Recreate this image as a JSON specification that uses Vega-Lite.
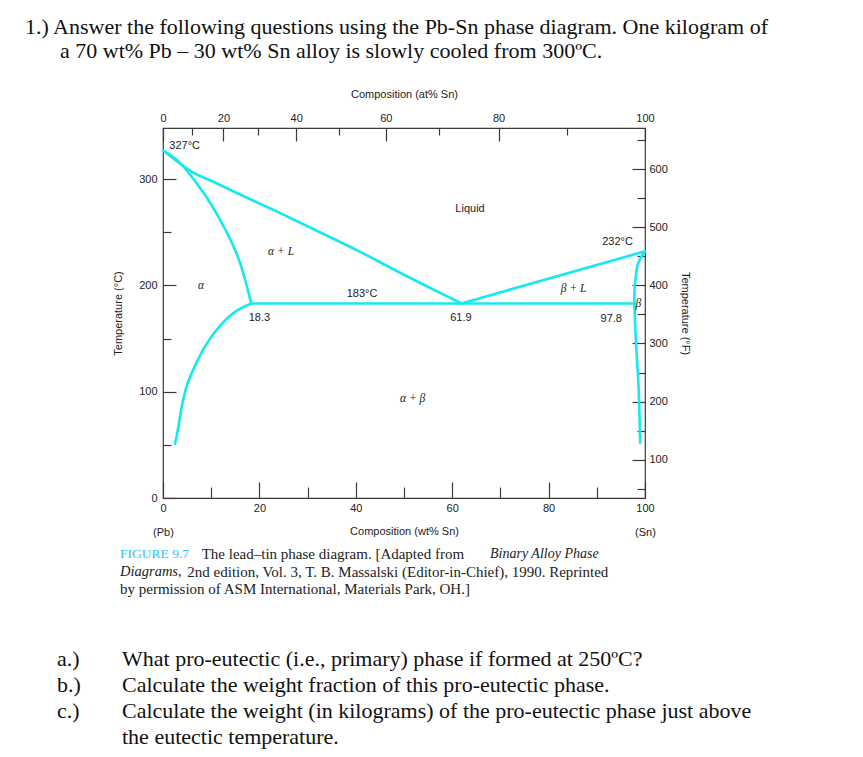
{
  "$schema": "https://vega.github.io/schema/vega-lite/v6.json",
  "width": 482,
  "height": 370,
  "autosize": {"type": "none"},
  "padding": {"left": 163, "top": 128, "right": 218, "bottom": 259},
  "background": "white",
  "config": {
    "view": {"stroke": "#3a3a3a", "strokeWidth": 1.2},
    "font": "Liberation Sans",
    "axis": {
      "labelFont": "Liberation Sans", "labelFontSize": 11, "labelColor": "#222",
      "titleFont": "Liberation Sans", "titleFontSize": 11, "titleFontWeight": "normal", "titleColor": "#222",
      "tickColor": "#3a3a3a", "tickWidth": 1.2, "domain": false, "grid": false,
      "labelFlush": false, "labelOverlap": false, "labelBound": false
    }
  },
  "datasets": {
    "boundaries": [
      {"boundary": "liquidus_a", "seq": 1, "wt": 0, "T": 327},
      {"boundary": "liquidus_a", "seq": 2, "wt": 5.6, "T": 308},
      {"boundary": "liquidus_a", "seq": 3, "wt": 11.1, "T": 296},
      {"boundary": "liquidus_a", "seq": 4, "wt": 18.1, "T": 281},
      {"boundary": "liquidus_a", "seq": 5, "wt": 24.3, "T": 268},
      {"boundary": "liquidus_a", "seq": 6, "wt": 33, "T": 249},
      {"boundary": "liquidus_a", "seq": 7, "wt": 40.7, "T": 232},
      {"boundary": "liquidus_a", "seq": 8, "wt": 50, "T": 210},
      {"boundary": "liquidus_a", "seq": 9, "wt": 61.9, "T": 183},
      {"boundary": "solidus_a", "seq": 1, "wt": 0, "T": 327},
      {"boundary": "solidus_a", "seq": 2, "wt": 2, "T": 321},
      {"boundary": "solidus_a", "seq": 3, "wt": 4.2, "T": 312},
      {"boundary": "solidus_a", "seq": 4, "wt": 8.4, "T": 287},
      {"boundary": "solidus_a", "seq": 5, "wt": 11.8, "T": 262},
      {"boundary": "solidus_a", "seq": 6, "wt": 14.3, "T": 240},
      {"boundary": "solidus_a", "seq": 7, "wt": 16, "T": 221},
      {"boundary": "solidus_a", "seq": 8, "wt": 17.4, "T": 199},
      {"boundary": "solidus_a", "seq": 9, "wt": 18.3, "T": 183},
      {"boundary": "solvus_a", "seq": 1, "wt": 18.3, "T": 183},
      {"boundary": "solvus_a", "seq": 2, "wt": 14.6, "T": 174},
      {"boundary": "solvus_a", "seq": 3, "wt": 11.1, "T": 158},
      {"boundary": "solvus_a", "seq": 4, "wt": 8.4, "T": 140},
      {"boundary": "solvus_a", "seq": 5, "wt": 6.3, "T": 121},
      {"boundary": "solvus_a", "seq": 6, "wt": 4.9, "T": 105},
      {"boundary": "solvus_a", "seq": 7, "wt": 3.9, "T": 86},
      {"boundary": "solvus_a", "seq": 8, "wt": 3.2, "T": 67},
      {"boundary": "solvus_a", "seq": 9, "wt": 2.5, "T": 51},
      {"boundary": "liquidus_b", "seq": 1, "wt": 61.9, "T": 183},
      {"boundary": "liquidus_b", "seq": 2, "wt": 100, "T": 232},
      {"boundary": "solidus_b", "seq": 1, "wt": 100, "T": 232},
      {"boundary": "solidus_b", "seq": 2, "wt": 98.6, "T": 221},
      {"boundary": "solidus_b", "seq": 3, "wt": 98.0, "T": 205},
      {"boundary": "solidus_b", "seq": 4, "wt": 97.8, "T": 193},
      {"boundary": "solidus_b", "seq": 5, "wt": 97.8, "T": 183},
      {"boundary": "solvus_b", "seq": 1, "wt": 97.8, "T": 183},
      {"boundary": "solvus_b", "seq": 2, "wt": 97.9, "T": 170},
      {"boundary": "solvus_b", "seq": 3, "wt": 98.0, "T": 158},
      {"boundary": "solvus_b", "seq": 4, "wt": 98.3, "T": 133},
      {"boundary": "solvus_b", "seq": 5, "wt": 98.6, "T": 111},
      {"boundary": "solvus_b", "seq": 6, "wt": 98.8, "T": 86},
      {"boundary": "solvus_b", "seq": 7, "wt": 99.0, "T": 52},
      {"boundary": "eutectic", "seq": 1, "wt": 18.3, "T": 183},
      {"boundary": "eutectic", "seq": 2, "wt": 97.8, "T": 183}
    ],
    "valueLabels": [
      {"text": "327°C", "wt": 4.5, "T": 331},
      {"text": "Liquid", "wt": 63.7, "T": 271.6},
      {"text": "183°C", "wt": 41.3, "T": 191.7},
      {"text": "232°C", "wt": 94.3, "T": 240.6},
      {"text": "18.3", "wt": 20.0, "T": 169.2},
      {"text": "61.9", "wt": 61.8, "T": 169.2},
      {"text": "97.8", "wt": 93.0, "T": 168.2}
    ],
    "phaseLabels": [
      {"text": "α + L", "wt": 24.5, "T": 231.2},
      {"text": "α", "wt": 7.9, "T": 199.2},
      {"text": "β + L", "wt": 85.2, "T": 196.7},
      {"text": "β", "wt": 98.6, "T": 182.6},
      {"text": "α + β", "wt": 51.8, "T": 93}
    ],
    "header": [
      {"line": 1, "text": "1.) Answer the following questions using the Pb-Sn phase diagram. One kilogram of"},
      {"line": 2, "text": "a 70 wt% Pb – 30 wt% Sn alloy is slowly cooled from 300ºC."}
    ],
    "caption": [
      {"line": 1, "piece": "figure", "text": "FIGURE 9.7"},
      {"line": 1, "piece": "title", "text": "The lead–tin phase diagram. [Adapted from"},
      {"line": 1, "piece": "source", "text": "Binary Alloy Phase"},
      {"line": 2, "piece": "sourceCont", "text": "Diagrams,"},
      {"line": 2, "piece": "details", "text": "2nd edition, Vol. 3, T. B. Massalski (Editor-in-Chief), 1990. Reprinted"},
      {"line": 3, "piece": "permission", "text": "by permission of ASM International, Materials Park, OH.]"}
    ],
    "questions": [
      {"line": 1, "kind": "marker", "text": "a.)"},
      {"line": 1, "kind": "item", "text": "What pro-eutectic (i.e., primary) phase if formed at 250ºC?"},
      {"line": 2, "kind": "marker", "text": "b.)"},
      {"line": 2, "kind": "item", "text": "Calculate the weight fraction of this pro-eutectic phase."},
      {"line": 3, "kind": "marker", "text": "c.)"},
      {"line": 3, "kind": "item", "text": "Calculate the weight (in kilograms) of the pro-eutectic phase just above"},
      {"line": 4, "kind": "item", "text": "the eutectic temperature."}
    ]
  },
  "resolve": {"scale": {"x": "independent", "y": "independent"}},
  "layer": [
    {
      "layer": [
        {
          "data": {"name": "boundaries"},
          "mark": {"type": "line", "interpolate": "cardinal", "color": "#14E9F2", "strokeWidth": 2.6, "strokeCap": "round", "strokeJoin": "round"},
          "encoding": {
            "x": {
              "field": "wt", "type": "quantitative",
              "scale": {"domain": [0, 100], "nice": false, "zero": false},
              "axis": {
                "orient": "bottom", "title": null,
                "values": [0, 10, 20, 30, 40, 50, 60, 70, 80, 90, 100],
                "labelExpr": "datum.value % 20 === 0 ? datum.label : ''",
                "tickSize": {"condition": {"test": "datum.value % 20 === 0", "value": -16}, "value": -11},
                "labelPadding": 20
              }
            },
            "y": {
              "field": "T", "type": "quantitative",
              "scale": {"domain": [0, 348], "nice": false, "zero": false},
              "axis": {
                "orient": "left", "title": "Temperature (°C)",
                "values": [0, 50, 100, 150, 200, 250, 300],
                "labelExpr": "datum.value % 100 === 0 ? datum.label : ''",
                "tickSize": {"condition": {"test": "datum.value % 100 === 0", "value": -13}, "value": -8},
                "labelPadding": 19, "titlePadding": 15
              }
            },
            "detail": {"field": "boundary"},
            "order": {"field": "seq", "type": "quantitative"}
          }
        },
        {
          "data": {"name": "valueLabels"},
          "mark": {"type": "text", "font": "Liberation Sans", "fontSize": 11, "color": "#222", "baseline": "middle"},
          "encoding": {
            "x": {"field": "wt", "type": "quantitative"},
            "y": {"field": "T", "type": "quantitative"},
            "text": {"field": "text"}
          }
        },
        {
          "data": {"name": "phaseLabels"},
          "mark": {"type": "text", "font": "Liberation Serif", "fontStyle": "italic", "fontSize": 11.5, "color": "#222", "baseline": "middle"},
          "encoding": {
            "x": {"field": "wt", "type": "quantitative"},
            "y": {"field": "T", "type": "quantitative"},
            "text": {"field": "text"}
          }
        }
      ]
    },
    {
      "data": {"values": [{"wt": 0}, {"wt": 100}]},
      "mark": {"type": "rule", "opacity": 0},
      "encoding": {
        "x": {
          "field": "wt", "type": "quantitative",
          "scale": {"domain": [0, 100], "nice": false, "zero": false},
          "axis": {
            "orient": "top", "title": "Composition (at% Sn)",
            "values": [0, 5.985, 12.529, 19.713, 27.638, 36.424, 46.219, 57.207, 69.621, 83.757, 100],
            "labelExpr": "round(100*(datum.value/118.71)/(datum.value/118.71+(100-datum.value)/207.2)) % 20 === 0 ? format(round(100*(datum.value/118.71)/(datum.value/118.71+(100-datum.value)/207.2)), 'd') : ''",
            "tickSize": {"condition": {"test": "round(100*(datum.value/118.71)/(datum.value/118.71+(100-datum.value)/207.2)) % 20 === 0", "value": -13}, "value": -7},
            "labelPadding": 17.5, "titlePadding": 7
          }
        }
      }
    },
    {
      "data": {"values": [{"F": 34}, {"F": 671}]},
      "mark": {"type": "rule", "opacity": 0},
      "encoding": {
        "y": {
          "field": "F", "type": "quantitative",
          "scale": {"domain": [34, 671], "nice": false, "zero": false},
          "axis": {
            "orient": "right", "title": "Temperature (°F)",
            "values": [50, 100, 150, 200, 250, 300, 350, 400, 450, 500, 550, 600, 650],
            "labelExpr": "datum.value % 100 === 0 ? datum.label : ''",
            "tickSize": {"condition": {"test": "datum.value % 100 === 0", "value": -13}, "value": -8},
            "labelPadding": 17, "titlePadding": 12
          }
        }
      }
    },
    {
      "data": {"values": [{"wt": 0}, {"wt": 100}]},
      "mark": {"type": "rule", "opacity": 0},
      "encoding": {
        "x": {
          "field": "wt", "type": "quantitative",
          "scale": {"domain": [0, 100], "nice": false, "zero": false},
          "axis": {
            "orient": "bottom", "title": "Composition (wt% Sn)",
            "values": [0, 100],
            "labelExpr": "datum.value === 0 ? '(Pb)' : '(Sn)'",
            "ticks": false, "labelPadding": 28,
            "titleY": 33, "titleBaseline": "middle"
          }
        }
      }
    },
    {
      "data": {"name": "header"},
      "mark": {"type": "text", "align": "left", "baseline": "middle", "font": "Liberation Serif", "fontSize": 22, "color": "#111"},
      "encoding": {
        "x": {"field": "line", "type": "quantitative", "scale": {"domain": [1, 2], "range": [-138, -103]}, "axis": null},
        "y": {"field": "line", "type": "quantitative", "scale": {"domain": [1, 2], "range": [-101, -77]}, "axis": null},
        "text": {"field": "text"}
      }
    },
    {
      "data": {"name": "caption"},
      "encoding": {
        "x": {"datum": 0, "type": "quantitative", "scale": {"domain": [0, 1], "range": [-43, 439]}, "axis": null},
        "y": {"field": "line", "type": "quantitative", "scale": {"domain": [1, 3], "range": [426, 461]}, "axis": null},
        "text": {"field": "text"}
      },
      "layer": [
        {"transform": [{"filter": "datum.piece === 'figure'"}],
         "mark": {"type": "text", "align": "left", "baseline": "middle", "font": "Liberation Serif", "fontSize": 13.5, "color": "#29c5f6"}},
        {"transform": [{"filter": "datum.piece === 'permission'"}],
         "mark": {"type": "text", "align": "left", "baseline": "middle", "font": "Liberation Serif", "fontSize": 15, "color": "#222"}},
        {"transform": [{"filter": "datum.piece === 'title'"}],
         "mark": {"type": "text", "align": "left", "baseline": "middle", "font": "Liberation Serif", "fontSize": 15, "color": "#222", "dx": 81.7}},
        {"transform": [{"filter": "datum.piece === 'details'"}],
         "mark": {"type": "text", "align": "left", "baseline": "middle", "font": "Liberation Serif", "fontSize": 15, "color": "#222", "dx": 67.3}},
        {"transform": [{"filter": "datum.piece === 'source'"}],
         "mark": {"type": "text", "align": "left", "baseline": "middle", "font": "Liberation Serif", "fontStyle": "italic", "fontSize": 14, "color": "#222", "dx": 370}},
        {"transform": [{"filter": "datum.piece === 'sourceCont'"}],
         "mark": {"type": "text", "align": "left", "baseline": "middle", "font": "Liberation Serif", "fontStyle": "italic", "fontSize": 14.5, "color": "#222"}}
      ]
    },
    {
      "data": {"name": "questions"},
      "mark": {"type": "text", "align": "left", "baseline": "middle", "font": "Liberation Serif", "fontSize": 22, "color": "#111"},
      "encoding": {
        "x": {"field": "kind", "type": "nominal", "scale": {"type": "point", "domain": ["marker", "item"], "range": [-106, -41], "padding": 0}, "axis": null},
        "y": {"field": "line", "type": "quantitative", "scale": {"domain": [1, 4], "range": [531, 609]}, "axis": null},
        "text": {"field": "text"}
      }
    }
  ]
}
